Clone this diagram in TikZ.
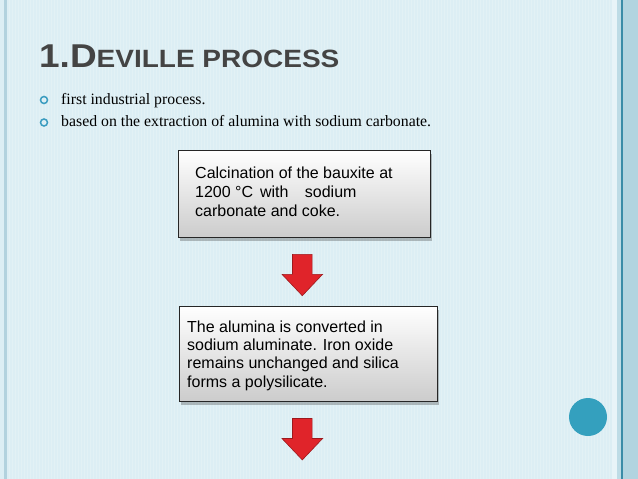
\documentclass[tikz,border=0pt]{standalone}
\usepackage{fontspec}
\setmainfont{Liberation Serif}
\newfontfamily\titlefont[FakeStretch=1.12]{Liberation Sans}
\newfontfamily\boxfont{Liberation Sans}
\usetikzlibrary{shadows}
\definecolor{bgblue}{RGB}{220,238,244}
\definecolor{leftstripe}{RGB}{178,210,222}
\definecolor{rightband}{RGB}{178,212,224}
\definecolor{rightlight}{RGB}{232,244,248}
\definecolor{rightmid}{RGB}{190,220,230}
\definecolor{rightline}{RGB}{58,140,168}
\definecolor{dotblue}{RGB}{52,160,190}
\definecolor{bulletblue}{RGB}{58,156,192}
\definecolor{titlegray}{RGB}{68,68,68}
\definecolor{arrowred}{RGB}{224,36,42}
\tikzset{
  procbox/.style={draw=black!85, line width=0.8pt, top color=white, bottom color=black!20,
    inner sep=0pt, outer sep=0pt, anchor=north west,
    drop shadow={shadow xshift=2pt, shadow yshift=-4pt, opacity=0.35, fill=black!70}},
  boxtext/.style={font=\boxfont\fontsize{16}{19}\selectfont, align=left, inner sep=0pt, anchor=north west, text=black},
  bullettext/.style={font=\fontsize{15.8}{19}\selectfont, inner sep=0pt, anchor=base west, text=black},
  bulletdot/.style={circle, draw=bulletblue, line width=1.5pt, minimum size=7pt, inner sep=0pt},
  downarrow/.pic={
    \filldraw[fill=arrowred, draw=arrowred!70!black, line width=0.6pt]
      (-9.8,0) -- (9.8,0) -- (9.8,20) -- (20.3,20) -- (0,41.4) -- (-20.3,20) -- (-9.8,20) -- cycle;
  }
}
\begin{document}
\begin{tikzpicture}[x=1pt,y=-1pt]
\useasboundingbox (0,0) rectangle (638,479);
% background
\fill[bgblue] (0,0) rectangle (638,479);
\foreach \x in {9,12,...,609} \draw[white, opacity=0.18, line width=0.8pt] (\x,0) -- (\x,479);
\fill[leftstripe] (4,0) rectangle (7,479);
\fill[rightlight] (612,0) rectangle (617,479);
\fill[rightmid] (617,0) rectangle (621,479);
\fill[rightline] (621,0) rectangle (623,479);
\fill[rightband] (623,0) rectangle (638,479);
% title
\node[anchor=base west, inner sep=0pt, text=titlegray] (title) at (39,67)
  {\titlefont\bfseries\fontsize{33}{33}\selectfont 1.D\fontsize{25}{25}\selectfont EVILLE PROCESS};
% bullets
\node[bulletdot] (d1) at (44,100) {};
\node[bulletdot] (d2) at (44,122.5) {};
\node[bullettext] (l1) at (61,104) {first industrial process.};
\node[bullettext] (l2) at (61,126.5) {based on the extraction of alumina with sodium carbonate.};
% boxes
\node[procbox, minimum width=252pt, minimum height=87pt] (b1) at (178,150) {};
\node[boxtext] (t1) at (195,166.5) {Calcination of the bauxite at\\1200 °C\hspace{0.15em} with\hspace{0.75em} sodium\\carbonate and coke.};
\pic at (302.3,254.3) {downarrow};
\node[procbox, minimum width=258pt, minimum height=95pt] (b2) at (179,306) {};
\node[boxtext, font=\boxfont\fontsize{16}{18.3}\selectfont] (t2) at (187,320.5) {The alumina is converted in\\sodium aluminate. Iron oxide\\remains unchanged and silica\\forms a polysilicate.};
\pic at (302.3,418.5) {downarrow};
% circle
\fill[dotblue] (588,417) circle (19);
\end{tikzpicture}
\end{document}
